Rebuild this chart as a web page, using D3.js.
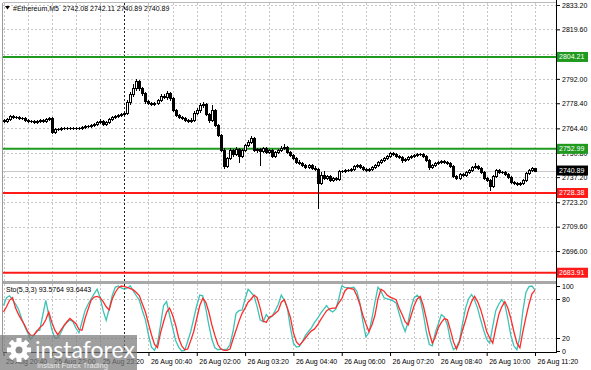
<!DOCTYPE html>
<html><head><meta charset="utf-8">
<script src="https://cdn.jsdelivr.net/npm/d3@7"></script>
<style>
html,body{margin:0;padding:0;background:#fff;}
svg{display:block;font-family:"Liberation Sans",Arial,sans-serif;}
</style></head>
<body><svg id="c" width="591" height="370"></svg>
<script>
// ---------- DATA ----------
const symbolTitle = "#Ethereum,M5";
const lastOHLC = [2742.08, 2742.11, 2740.89, 2740.89];
const stochTitle = "Sto(5,3,3)";
const stochLast = [93.5764, 93.6443];

const opens = [
2769.1,2768.5,2769.6,2771.3,2770.8,2770.8,2770.2,2770.2,2769.1,2768.5,2768.5,2768.0,2768.5,2769.1,2768.5,2769.6,
2770.2,2762.4,2764.1,2764.1,2764.6,2764.6,2764.6,2764.6,2764.6,2764.6,2764.6,2765.2,2765.7,2765.7,2766.3,2766.9,
2768.0,2768.5,2766.9,2768.0,2769.6,2770.8,2771.3,2771.9,2772.4,2773.0,2779.1,2783.6,2786.9,2790.8,2786.9,2784.1,
2779.7,2778.6,2778.0,2778.6,2780.2,2782.5,2781.9,2784.1,2781.3,2774.7,2771.9,2770.8,2770.2,2769.1,2768.5,2769.1,
2773.0,2774.7,2777.4,2778.0,2772.4,2769.1,2774.7,2766.3,2760.7,2752.4,2743.4,2747.9,2752.4,2750.1,2752.9,2749.0,
2752.4,2755.1,2756.8,2759.0,2752.4,2752.9,2751.8,2753.5,2751.2,2752.4,2749.0,2751.2,2752.4,2753.5,2754.0,2751.2,
2749.6,2747.9,2745.7,2745.1,2744.0,2742.9,2744.0,2742.3,2741.8,2733.9,2738.4,2736.7,2737.9,2735.6,2736.7,2736.2,
2740.6,2740.6,2741.2,2741.2,2741.8,2743.4,2744.0,2742.9,2741.8,2741.2,2741.8,2742.9,2744.0,2745.7,2746.8,2747.9,
2749.0,2750.7,2750.1,2749.0,2748.5,2746.8,2747.3,2748.5,2749.0,2749.6,2750.1,2750.1,2749.0,2746.8,2742.9,2744.0,
2745.1,2745.7,2746.2,2745.7,2745.1,2743.4,2737.9,2736.7,2739.0,2738.4,2740.1,2741.2,2742.9,2743.4,2742.3,2740.1,
2736.7,2735.6,2732.3,2737.9,2741.2,2740.1,2740.1,2739.0,2737.3,2734.5,2733.9,2733.4,2733.9,2735.6,2739.5,2741.0,
2742.08];
const closes = [
2768.5,2769.6,2771.3,2770.8,2770.8,2770.2,2770.2,2769.1,2768.5,2768.5,2768.0,2768.5,2769.1,2768.5,2769.6,2770.2,
2762.4,2764.1,2764.1,2764.6,2764.6,2764.6,2764.6,2764.6,2764.6,2764.6,2765.2,2765.7,2765.7,2766.3,2766.9,2768.0,
2768.5,2766.9,2768.0,2769.6,2770.8,2771.3,2771.9,2772.4,2773.0,2779.1,2783.6,2786.9,2790.8,2786.9,2784.1,2779.7,
2778.6,2778.0,2778.6,2780.2,2782.5,2781.9,2784.1,2781.3,2774.7,2771.9,2770.8,2770.2,2769.1,2768.5,2769.1,2773.0,
2774.7,2777.4,2778.0,2772.4,2769.1,2774.7,2766.3,2760.7,2752.4,2743.4,2747.9,2752.4,2750.1,2752.9,2749.0,2752.4,
2755.1,2756.8,2759.0,2752.4,2752.9,2751.8,2753.5,2751.2,2752.4,2749.0,2751.2,2752.4,2753.5,2754.0,2751.2,2749.6,
2747.9,2745.7,2745.1,2744.0,2742.9,2744.0,2742.3,2741.8,2733.9,2738.4,2736.7,2737.9,2735.6,2736.7,2736.2,2740.6,
2740.6,2741.2,2741.2,2741.8,2743.4,2744.0,2742.9,2741.8,2741.2,2741.8,2742.9,2744.0,2745.7,2746.8,2747.9,2749.0,
2750.7,2750.1,2749.0,2748.5,2746.8,2747.3,2748.5,2749.0,2749.6,2750.1,2750.1,2749.0,2746.8,2742.9,2744.0,2745.1,
2745.7,2746.2,2745.7,2745.1,2743.4,2737.9,2736.7,2739.0,2738.4,2740.1,2741.2,2742.9,2743.4,2742.3,2740.1,2736.7,
2735.6,2732.3,2737.9,2741.2,2740.1,2740.1,2739.0,2737.3,2734.5,2733.9,2733.4,2733.9,2735.6,2739.5,2741.0,2742.1,
2740.89];
const highs = [
2769.8,2770.2,2771.9,2771.9,2771.4,2771.3,2770.8,2770.8,2769.6,2769.1,2769.1,2769.1,2769.6,2769.6,2770.2,2770.8,
2770.8,2764.6,2764.6,2765.2,2765.2,2765.2,2765.2,2765.2,2765.2,2765.2,2765.7,2766.3,2766.3,2766.9,2767.4,2768.5,
2769.6,2769.1,2768.5,2770.2,2771.3,2771.9,2772.4,2773.0,2773.5,2780.2,2784.7,2789.2,2792.0,2791.4,2787.5,2784.7,
2780.2,2779.1,2779.1,2780.8,2783.6,2783.6,2785.2,2784.7,2782.0,2775.2,2772.4,2771.3,2770.8,2769.6,2770.2,2774.1,
2775.8,2778.6,2779.1,2778.6,2773.0,2777.4,2775.2,2766.9,2761.3,2753.5,2748.5,2753.5,2753.0,2754.0,2753.5,2753.0,
2755.7,2757.9,2760.2,2759.6,2753.5,2753.5,2754.0,2754.0,2753.0,2753.0,2751.8,2753.0,2754.6,2755.7,2754.6,2751.8,
2750.1,2748.5,2746.8,2745.7,2744.5,2744.5,2744.5,2743.4,2742.3,2740.1,2740.6,2738.4,2738.4,2737.3,2737.3,2741.2,
2741.2,2741.8,2741.8,2742.3,2744.0,2744.5,2744.5,2743.4,2742.3,2742.3,2743.4,2744.5,2746.2,2747.3,2748.5,2749.6,
2751.2,2751.2,2750.7,2749.6,2749.0,2747.9,2749.0,2749.6,2750.1,2750.7,2750.7,2750.7,2749.6,2747.3,2744.5,2745.7,
2746.2,2746.8,2746.8,2746.2,2745.7,2744.0,2738.4,2739.5,2739.5,2740.6,2741.8,2743.4,2745.1,2744.0,2742.9,2740.6,
2737.3,2736.2,2738.4,2741.8,2741.8,2740.6,2740.6,2739.5,2737.9,2735.0,2734.5,2734.5,2736.2,2740.1,2741.8,2742.6,
2742.11];
const lows = [
2767.9,2768.0,2769.1,2770.2,2770.2,2769.6,2769.6,2768.5,2768.0,2767.9,2767.4,2767.4,2768.0,2767.9,2768.0,2769.1,
2761.8,2761.8,2763.5,2763.5,2764.1,2764.1,2764.1,2764.1,2764.1,2764.1,2764.1,2764.6,2765.2,2765.2,2765.7,2766.3,
2767.4,2766.3,2766.3,2767.4,2769.1,2770.2,2770.8,2771.3,2771.9,2772.4,2778.0,2782.5,2785.8,2785.8,2783.0,2778.6,
2777.9,2777.4,2777.4,2778.0,2779.7,2781.3,2780.8,2780.2,2774.1,2771.3,2770.2,2769.6,2768.5,2768.0,2768.0,2768.5,
2772.4,2773.5,2776.3,2771.9,2768.0,2768.5,2765.7,2760.2,2751.8,2742.3,2742.9,2747.3,2749.0,2749.6,2745.7,2748.5,
2751.8,2754.6,2756.3,2751.8,2751.2,2744.0,2751.2,2750.7,2750.7,2748.5,2748.5,2750.7,2751.8,2753.0,2750.7,2749.0,
2747.3,2745.1,2744.5,2743.4,2742.3,2742.3,2741.8,2741.2,2720.0,2733.4,2736.2,2736.2,2735.0,2735.0,2735.6,2735.6,
2740.1,2740.1,2740.6,2740.6,2741.2,2742.9,2742.3,2741.2,2740.6,2740.6,2741.2,2742.3,2743.4,2745.1,2746.2,2747.3,
2748.5,2749.6,2748.5,2747.9,2745.7,2746.2,2746.8,2747.9,2748.5,2749.0,2749.6,2748.5,2746.2,2741.8,2742.3,2743.4,
2744.5,2745.1,2745.1,2744.5,2742.9,2737.3,2736.2,2736.2,2737.9,2737.9,2739.5,2740.6,2742.3,2741.8,2739.5,2736.2,
2735.0,2730.0,2731.7,2737.3,2739.5,2739.5,2738.4,2736.7,2733.9,2733.4,2732.8,2732.8,2733.4,2735.0,2739.0,2740.6,
2740.89];

const stochK = [
70,82,85,79,72,64,50,38,28,18,24,31,32,55,78,55,33,20,20,28,38,44,48,45,35,28,45,62,72,80,88,95,
82,62,47,65,85,98,100,97,95,97,100,92,85,78,62,48,25,6,1,12,40,70,76,55,36,16,6,0,1,15,30,50,
70,86,85,65,40,18,5,2,3,2,3,10,30,58,62,63,80,95,90,84,68,48,45,56,50,54,62,72,86,78,66,36,
12,6,7,15,24,30,36,44,50,58,64,70,63,60,64,80,100,98,97,97,98,92,74,45,22,28,50,75,98,92,82,80,
79,77,74,58,42,30,45,68,82,86,80,58,30,10,8,28,42,56,52,40,16,2,6,16,42,66,80,87,78,66,48,32,
18,12,38,62,72,79,72,50,24,8,2,22,62,90,99,100,93.58];
const stochD = [
60,68,78,82,66,56,48,40,30,24,24,30,36,40,48,60,44,32,25,32,39,45,50,46,42,33,32,50,64,78,83,84,
82,76,68,63,80,90,97,100,99,98,96,94,90,85,72,60,42,25,10,5,28,45,60,66,55,40,20,8,2,3,16,30,
50,70,81,75,60,40,24,10,3,1,1,3,18,32,46,58,66,75,80,86,82,66,46,44,52,54,58,62,75,79,66,52,
28,14,9,14,20,26,31,34,40,48,55,62,65,66,66,74,80,92,97,96,95,85,72,55,42,30,40,55,80,95,92,86,
83,81,79,66,56,45,40,55,70,80,84,70,50,28,12,22,36,44,50,48,32,14,3,14,32,47,64,76,84,76,64,48,
30,20,12,35,56,68,76,66,50,30,12,5,30,52,72,88,93.64];

const timeTickBars = [0,16,32,48,64,80,96,112,128,144,160,176];
const timeTickLabels = ["25 Aug 20:40","25 Aug 22:00","25 Aug 23:20","26 Aug 00:40","26 Aug 02:00","26 Aug 03:20",
  "26 Aug 04:40","26 Aug 06:00","26 Aug 07:20","26 Aug 08:40","26 Aug 10:00","26 Aug 11:20"];
const daySeparatorBar = 40; // 26 Aug 00:00
const priceTicks = [2833.20,2819.60,2806.00,2792.00,2778.40,2764.40,2750.80,2737.20,2723.20,2709.60,2696.00];
const supportResistance = [2804.21, 2752.99, 2728.38, 2683.91];
const stochTicks = [100, 80, 20, 0];
const stochLevels = [80, 20];

// ---------- LAYOUT ----------
const svg = d3.select("#c");
const L = 3, R = 556, mainTop = 3, mainBot = 281, stTop = 284, stBot = 352;
const lvlColor = ["#1f9a1f","#1f9a1f","#ff1a1a","#ff1a1a"];
const F = 7;

const N = closes.length;
const x = d3.scaleLinear().domain([0, 176]).range([3.5, 535]);
const y = d3.scaleLinear().domain([2679.3, 2834.3]).range([mainBot, mainTop]);
const ys = d3.scaleLinear().domain([0, 100]).range([351, 286]);

const defs = svg.append("defs");
defs.append("clipPath").attr("id","cm").append("rect").attr("x",L).attr("y",mainTop).attr("width",R-L).attr("height",mainBot-mainTop);
defs.append("clipPath").attr("id","cs").append("rect").attr("x",L).attr("y",stTop).attr("width",R-L).attr("height",stBot-stTop);

// grids
const grid = svg.append("g").attr("stroke","#c6c6c6").attr("stroke-dasharray","2,2").attr("stroke-width",1);
for (let b = 0; b <= 176; b += 8) {
  if (b === daySeparatorBar) continue;
  const gx = Math.round(x(b)) + 0.5;
  grid.append("line").attr("x1",gx).attr("x2",gx).attr("y1",mainTop).attr("y2",mainBot);
  grid.append("line").attr("x1",gx).attr("x2",gx).attr("y1",stTop).attr("y2",stBot);
}
priceTicks.forEach(v => {
  const gy = Math.round(y(v)) + 0.5;
  grid.append("line").attr("x1",L).attr("x2",R).attr("y1",gy).attr("y2",gy);
});
stochLevels.forEach(v => {
  const gy = Math.round(ys(v)) + 0.5;
  grid.append("line").attr("x1",L).attr("x2",R).attr("y1",gy).attr("y2",gy);
});
// day separator
const sx = Math.round(x(daySeparatorBar)) + 0.5;
[[mainTop,mainBot],[stTop,stBot]].forEach(([a,b]) => {
  svg.append("line").attr("x1",sx).attr("x2",sx).attr("y1",a).attr("y2",b)
    .attr("stroke","#222").attr("stroke-dasharray","2,2");
});

// level lines
const gm = svg.append("g").attr("clip-path","url(#cm)");
// current price line
gm.append("line").attr("x1",L).attr("x2",R).attr("y1",Math.round(y(lastOHLC[3]))+0.5).attr("y2",Math.round(y(lastOHLC[3]))+0.5)
  .attr("stroke","#c8c8c8");
supportResistance.forEach((v,i) => {
  gm.append("line").attr("x1",L).attr("x2",R).attr("y1",y(v)).attr("y2",y(v))
    .attr("stroke",lvlColor[i]).attr("stroke-width",2);
});

// candles
const cg = gm.append("g");
for (let i = 0; i < N; i++) {
  const cx = Math.round(x(i));
  const o = opens[i], c = closes[i];
  cg.append("line").attr("x1",cx+0.5).attr("x2",cx+0.5)
    .attr("y1",Math.round(y(highs[i]))).attr("y2",Math.round(y(lows[i]))+1)
    .attr("stroke","#000").attr("stroke-width",1);
  const t = Math.round(y(Math.max(o,c))), b = Math.round(y(Math.min(o,c)));
  if (c >= o && b - t >= 2) {
    cg.append("rect").attr("x",cx-0.5).attr("y",t+0.5).attr("width",2).attr("height",b-t)
      .attr("fill","#fff").attr("stroke","#000").attr("stroke-width",1);
  } else {
    cg.append("rect").attr("x",cx-1).attr("y",t).attr("width",3).attr("height",Math.max(1,b-t+1))
      .attr("fill","#000");
  }
}

// stochastic
const gs = svg.append("g").attr("clip-path","url(#cs)");
const line = d3.line().x((d,i)=>x(i)).y(d=>ys(d));
gs.append("path").datum(stochK).attr("d",line).attr("fill","none").attr("stroke","#3cc3b5").attr("stroke-width",1.3);
gs.append("path").datum(stochD).attr("d",line).attr("fill","none").attr("stroke","#ff2b2b").attr("stroke-width",1.3);

// pane frames
svg.append("line").attr("x1",L-0.5).attr("x2",L-0.5).attr("y1",mainTop).attr("y2",stBot).attr("stroke","#9a9a9a");
svg.append("line").attr("x1",L).attr("x2",R).attr("y1",mainTop-0.5).attr("y2",mainTop-0.5).attr("stroke","#bbb");
svg.append("rect").attr("x",L).attr("y",mainBot).attr("width",R-L).attr("height",stTop-mainBot).attr("fill","#a8a8a8");
svg.append("line").attr("x1",R+0.5).attr("x2",R+0.5).attr("y1",0).attr("y2",stBot+1).attr("stroke","#000");
svg.append("line").attr("x1",L).attr("x2",R+1).attr("y1",stBot+0.5).attr("y2",stBot+0.5).attr("stroke","#000");

// price axis
const pa = svg.append("g").attr("transform",`translate(${R+1},0)`)
  .call(d3.axisRight(y).tickValues(priceTicks).tickSize(3).tickPadding(2).tickFormat(d3.format(".2f")));
pa.select(".domain").remove();
pa.selectAll("text").attr("font-size",F).attr("font-family","Liberation Sans, Arial").attr("fill","#000");
pa.selectAll("line").attr("stroke","#000");

// stoch axis
const sa = svg.append("g").attr("transform",`translate(${R+1},0)`)
  .call(d3.axisRight(ys).tickValues(stochTicks).tickSize(3).tickPadding(2));
sa.select(".domain").remove();
sa.selectAll("text").attr("font-size",F).attr("font-family","Liberation Sans, Arial").attr("fill","#000");
sa.selectAll("line").attr("stroke","#000");

// time axis
const ta = svg.append("g").attr("transform",`translate(0,${stBot+1})`)
  .call(d3.axisBottom(x).tickValues(timeTickBars).tickSize(3).tickPadding(3)
    .tickFormat((d,i)=>timeTickLabels[i]));
ta.select(".domain").remove();
ta.selectAll("text").attr("font-size",F).attr("font-family","Liberation Sans, Arial").attr("fill","#000")
  .attr("text-anchor","start").attr("dx",2);
ta.selectAll("line").attr("stroke","#000");

// level / price tags
const tags = supportResistance.map((v,i)=>({v, c:lvlColor[i]})).concat([{v:lastOHLC[3], c:"#000"}]);
tags.forEach(t => {
  const ty = y(t.v);
  svg.append("rect").attr("x",R+1).attr("y",ty-5).attr("width",31).attr("height",10).attr("fill",t.c);
  svg.append("text").attr("x",R+3).attr("y",ty+2.5).attr("font-size",F).attr("fill","#fff")
    .text(d3.format(".2f")(t.v));
});

// titles
svg.append("path").attr("d","M5,6 L10,6 L7.5,9.5 Z").attr("fill","#000");
svg.append("text").attr("x",13).attr("y",11).attr("font-size",F).attr("fill","#000")
  .attr("xml:space","preserve")
  .text(`${symbolTitle}  ${lastOHLC.map(d3.format(".2f")).join(" ")}`);
svg.append("text").attr("x",6).attr("y",292).attr("font-size",F).attr("fill","#000")
  .text(`${stochTitle} ${stochLast.map(d3.format(".4f")).join(" ")}`);

// logo
const lg = svg.append("g");
lg.append("rect").attr("x",0).attr("y",335).attr("width",137).attr("height",35).attr("fill","#7a7a7a").attr("opacity",0.72);
const gear = lg.append("g").attr("transform","translate(19,350)");
for (let k = 0; k < 8; k++) {
  gear.append("rect").attr("x",-2.5).attr("y",-12).attr("width",5).attr("height",6)
    .attr("fill","#fff").attr("transform",`rotate(${k*45})`);
}
gear.append("circle").attr("r",8.5).attr("fill","#fff");
gear.append("circle").attr("r",3.5).attr("fill","#8a8a8a");
lg.append("text").attr("x",35).attr("y",358).attr("font-size",23).attr("font-family","Lato, 'Open Sans', sans-serif")
  .attr("fill","#fff").text("instaforex");
lg.append("text").attr("x",37).attr("y",368).attr("font-size",7.5).attr("fill","#e6e6e6").text("Instant Forex Trading");
</script></body></html>
